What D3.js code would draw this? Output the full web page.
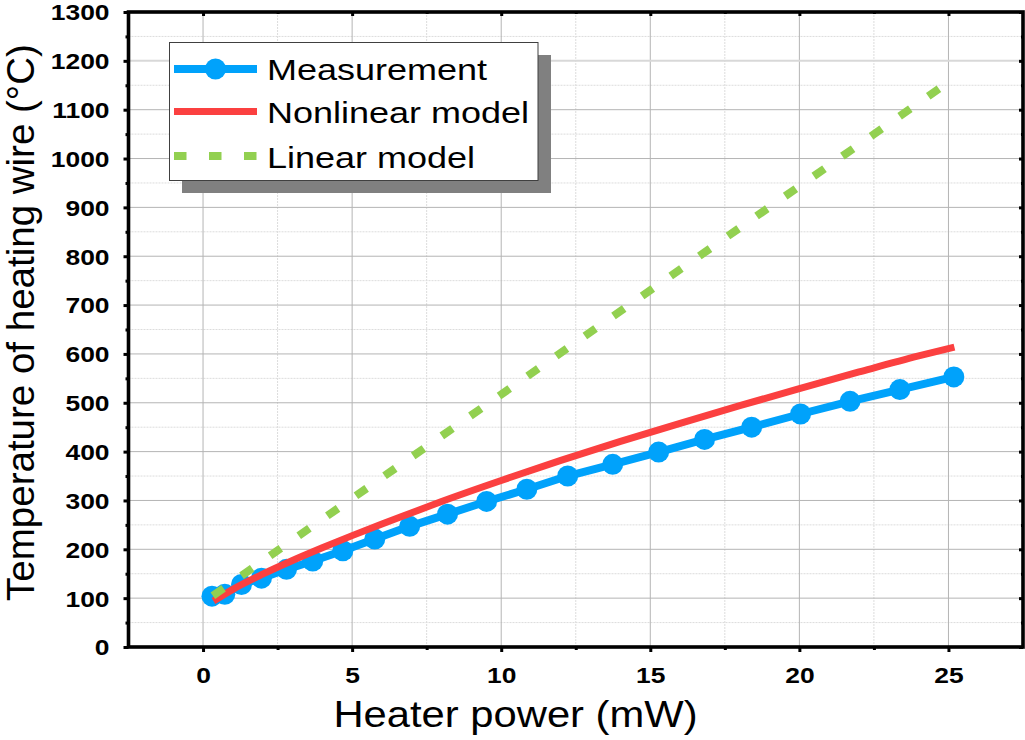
<!DOCTYPE html>
<html><head><meta charset="utf-8">
<script src="https://cdn.jsdelivr.net/npm/d3@7"></script>
<style>body{margin:0;background:#fff}</style>
</head><body><svg id="c" width="1025" height="740"></svg>
<script>
// ---- data ----
const measPower = [0.3, 0.73, 1.29, 1.96, 2.8, 3.68, 4.69, 5.76, 6.93, 8.2, 9.51, 10.86, 12.23, 13.74, 15.28, 16.82, 18.4, 20.04, 21.7, 23.37, 25.18];
const measTemp  = [104, 108, 128, 141, 159, 176, 197, 221, 247, 272, 298, 323, 350, 374, 399, 425, 450, 477, 503, 527, 553];
const nonlinPower = [0.35, 1, 2, 3, 4, 5, 6, 7, 8, 10, 12, 14, 16, 18, 20, 22, 24, 25.2];
const nonlinTemp  = [94, 118, 149, 177, 203, 228, 252, 275, 298, 341, 382, 421, 458, 494, 529, 563, 596, 614];
const linPower = [0.33, 25.2];
const linTemp  = [105, 1165];
const xMajorTicks = [0, 5, 10, 15, 20, 25];
const xMinorTicks = [2.5, 7.5, 12.5, 17.5, 22.5];
const yMajorTicks = [0, 100, 200, 300, 400, 500, 600, 700, 800, 900, 1000, 1100, 1200, 1300];
const yMinorTicks = [50, 150, 250, 350, 450, 550, 650, 750, 850, 950, 1050, 1150, 1250];
const seriesNames = ["Measurement", "Nonlinear model", "Linear model"];
const xTitle = "Heater power (mW)";
const yTitle = "Temperature of heating wire (°C)";

// ---- layout ----
const L = 128.5, R = 1023, T = 12, B = 647;
const STR = 1.2; // horizontal text stretch seen in the reference
const colBlue = "#00a2fb", colRed = "#fb4040", colGreen = "#92d050";
const FONT = "'Liberation Sans', Arial, Helvetica, sans-serif";

const svg = d3.select("#c").style("font-family", FONT);
const x = d3.scaleLinear().domain([-2.5, 27.5]).range([L, R]);
const y = d3.scaleLinear().domain([0, 1300]).range([B, T]);

// grid
const grid = svg.append("g");
grid.selectAll(".xmin").data(xMinorTicks).join("line")
  .attr("x1", d => x(d)).attr("x2", d => x(d)).attr("y1", T).attr("y2", B)
  .attr("stroke", "#dcdcdc").attr("stroke-width", 1).attr("stroke-dasharray", "2,1");
grid.selectAll(".ymin").data(yMinorTicks).join("line")
  .attr("y1", d => y(d)).attr("y2", d => y(d)).attr("x1", L).attr("x2", R)
  .attr("stroke", "#dcdcdc").attr("stroke-width", 1).attr("stroke-dasharray", "2,1");
grid.selectAll(".xmaj").data(xMajorTicks).join("line")
  .attr("x1", d => x(d)).attr("x2", d => x(d)).attr("y1", T).attr("y2", B)
  .attr("stroke", "#b4b4b4").attr("stroke-width", 1);
grid.selectAll(".ymaj").data(yMajorTicks.filter(d => d > 0 && d < 1300)).join("line")
  .attr("y1", d => y(d)).attr("y2", d => y(d)).attr("x1", L).attr("x2", R)
  .attr("stroke", d => d === 1200 ? "#d8d8d8" : "#b4b4b4").attr("stroke-width", d => d === 1200 ? 2 : 1);

// axes
function styleAxis(g) {
  g.select(".domain").remove();
  g.selectAll(".tick line").attr("stroke", "#000").attr("stroke-width", 3);
}
// left
svg.append("g").attr("transform", `translate(${L},0)`)
  .call(d3.axisLeft(y).tickValues(yMajorTicks).tickSize(5).tickSizeOuter(0).tickFormat(d3.format("d")))
  .call(styleAxis)
  .call(g => g.selectAll("text")
    .attr("x", -19 / STR).attr("dy", "0.36em")
    .attr("transform", `scale(${STR},1)`)
    .style("font-family", FONT).style("font-size", "22px").style("font-weight", "bold").attr("fill", "#000"));
svg.append("g").attr("transform", `translate(${L},0)`)
  .call(d3.axisLeft(y).tickValues(yMinorTicks).tickSize(3).tickSizeOuter(0).tickFormat(""))
  .call(styleAxis);
// bottom
svg.append("g").attr("transform", `translate(0,${B})`)
  .call(d3.axisBottom(x).tickValues(xMajorTicks).tickSize(5).tickSizeOuter(0).tickFormat(d3.format("d")))
  .call(styleAxis)
  .call(g => g.selectAll("text")
    .attr("y", 36).attr("dy", "0")
    .attr("transform", `scale(${STR},1)`)
    .style("font-family", FONT).style("font-size", "22px").style("font-weight", "bold").attr("fill", "#000"));
svg.append("g").attr("transform", `translate(0,${B})`)
  .call(d3.axisBottom(x).tickValues(xMinorTicks).tickSize(3).tickSizeOuter(0).tickFormat(""))
  .call(styleAxis);
// top (inward ticks)
svg.append("g").attr("transform", `translate(0,${T})`)
  .call(d3.axisTop(x).tickValues(xMajorTicks).tickSize(-4).tickSizeOuter(0).tickFormat(""))
  .call(styleAxis);
svg.append("g").attr("transform", `translate(0,${T})`)
  .call(d3.axisTop(x).tickValues(xMinorTicks).tickSize(-2).tickSizeOuter(0).tickFormat(""))
  .call(styleAxis);
// right (inward ticks)
svg.append("g").attr("transform", `translate(${R},0)`)
  .call(d3.axisRight(y).tickValues(yMajorTicks).tickSize(-4).tickSizeOuter(0).tickFormat(""))
  .call(styleAxis);
svg.append("g").attr("transform", `translate(${R},0)`)
  .call(d3.axisRight(y).tickValues(yMinorTicks).tickSize(-2).tickSizeOuter(0).tickFormat(""))
  .call(styleAxis);

// frame
svg.append("rect").attr("x", L).attr("y", T).attr("width", R - L).attr("height", B - T)
  .attr("fill", "none").attr("stroke", "#000").attr("stroke-width", 3.6);

// series
const line = d3.line().x(d => x(d[0])).y(d => y(d[1]));
const meas = measPower.map((p, i) => [p, measTemp[i]]);
const nonlin = nonlinPower.map((p, i) => [p, nonlinTemp[i]]);
const lin = linPower.map((p, i) => [p, linTemp[i]]);

svg.append("path").datum(meas).attr("d", line)
  .attr("fill", "none").attr("stroke", colBlue).attr("stroke-width", 8).attr("stroke-linejoin", "round");
svg.selectAll(".pt").data(meas).join("circle")
  .attr("cx", d => x(d[0])).attr("cy", d => y(d[1])).attr("r", 10.5).attr("fill", colBlue);
svg.append("path").datum(nonlin).attr("d", d3.line().curve(d3.curveMonotoneX).x(d => x(d[0])).y(d => y(d[1])))
  .attr("fill", "none").attr("stroke", colRed).attr("stroke-width", 7);
svg.append("path").datum(lin).attr("d", line)
  .attr("fill", "none").attr("stroke", colGreen).attr("stroke-width", 8).attr("stroke-dasharray", "13,21.9");

// legend
const lg = svg.append("g");
lg.append("rect").attr("x", 182).attr("y", 55).attr("width", 369).attr("height", 138).attr("fill", "#808080");
lg.append("rect").attr("x", 169.5).attr("y", 42.5).attr("width", 368.5).attr("height", 138)
  .attr("fill", "#fff").attr("stroke", "#404040").attr("stroke-width", 1);
const rowY = [69, 111.5, 156];
const baseY = [80, 123, 168];
lg.append("line").attr("x1", 174).attr("x2", 257).attr("y1", rowY[0]).attr("y2", rowY[0])
  .attr("stroke", colBlue).attr("stroke-width", 8);
lg.append("circle").attr("cx", 215.5).attr("cy", rowY[0]).attr("r", 10.5).attr("fill", colBlue);
lg.append("line").attr("x1", 174).attr("x2", 257).attr("y1", rowY[1]).attr("y2", rowY[1])
  .attr("stroke", colRed).attr("stroke-width", 7);
lg.append("line").attr("x1", 174).attr("x2", 257).attr("y1", rowY[2]).attr("y2", rowY[2])
  .attr("stroke", colGreen).attr("stroke-width", 8).attr("stroke-dasharray", "12.5,22.5");
lg.selectAll(".lt").data(seriesNames).join("text")
  .attr("x", 267 / STR).attr("y", (d, i) => baseY[i])
  .attr("transform", `scale(${STR},1)`)
  .style("font-size", "30px").attr("fill", "#000").text(d => d);

// titles
svg.append("text").attr("x", 515.5 / 1.16).attr("y", 727).attr("transform", "scale(1.16,1)")
  .attr("text-anchor", "middle").style("font-size", "36px").attr("fill", "#000").text(xTitle);
svg.append("text").attr("transform", "translate(34,322.5) rotate(-90)")
  .attr("text-anchor", "middle").style("font-size", "38.5px").attr("fill", "#000").text(yTitle);
</script>
</body></html>
